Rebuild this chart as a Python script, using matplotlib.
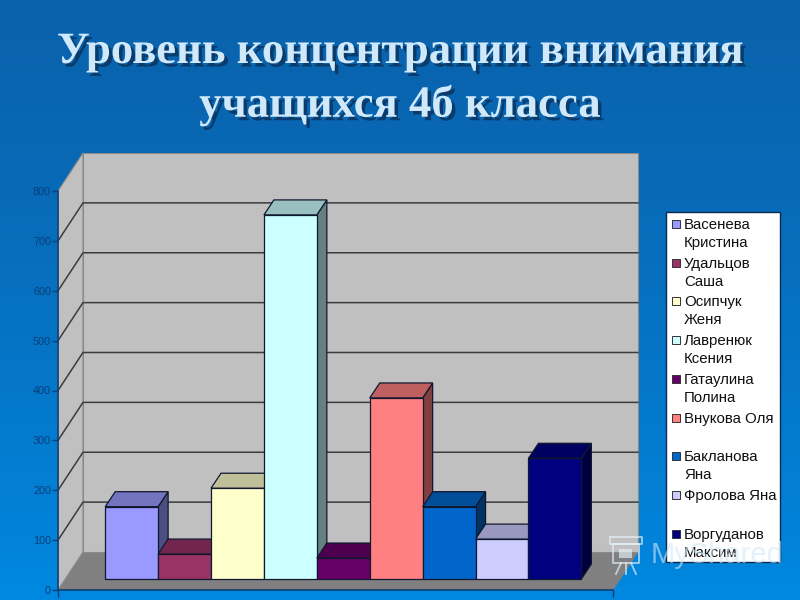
import numpy as np
import matplotlib
matplotlib.use('Agg')
import matplotlib.pyplot as plt
import matplotlib.patheffects as pe
from matplotlib.colors import to_rgb
from matplotlib.patches import Polygon, Rectangle

names = ['Васенева\nКристина', 'Удальцов\nСаша', 'Осипчук\nЖеня', 'Лавренюк\nКсения',
         'Гатаулина\nПолина', 'Внукова Оля', 'Бакланова\nЯна', 'Фролова Яна', 'Воргуданов\nМаксим']
values = [145, 50, 182, 730, 42, 363, 145, 80, 242]
colors = ['#9999FF', '#993366', '#FFFFCC', '#CCFFFF', '#660066', '#FF8080', '#0066CC', '#CCCCFF', '#000080']
yticks = [0, 100, 200, 300, 400, 500, 600, 700, 800]
legend_y = [224, 263, 301, 340, 379, 418, 456, 495, 534]

plt.rcParams['font.family'] = ['Liberation Sans', 'DejaVu Sans']
fig = plt.figure(figsize=(8, 6), dpi=100)

# background, title and legend live in a pixel sized overlay
bg = fig.add_axes([0, 0, 1, 1], zorder=0)
bg.axis('off')
top = np.array(to_rgb('#0A62AC'))
bottom = np.array(to_rgb('#0088E0'))
t = np.linspace(0, 1, 256)[:, None, None]
grad = top + (bottom - top) * t ** 1.3
bg.imshow(grad, extent=[0, 800, 600, 0], aspect='auto', zorder=0)
bg.set_xlim(0, 800)
bg.set_ylim(600, 0)

title_fx = [pe.withSimplePatchShadow(offset=(2.5, -2.5), shadow_rgbFace='#0A3560', alpha=0.85)]
for line, y in (('Уровень концентрации внимания', 52), ('учащихся 4б класса', 105)):
    bg.text(400, y, line, ha='center', va='center', family='Liberation Serif', fontweight='bold',
            fontsize=32.2, color='#CFE8FA', path_effects=title_fx)

# front plane of the chart: 58..613 px across, 0..800 is 590..191 px
ax = fig.add_axes([58 / 800, 10 / 600, 555 / 800, 399 / 600], zorder=1)
ax.patch.set_alpha(0)
xlim = (-1.26, 9.23)
ax.set_xlim(*xlim)
ax.set_ylim(0, 800)
ux = 555 / (xlim[1] - xlim[0])
uy = 399 / 800


def shift(x, y, dx, dy):
    return (x + dx / ux, y + dy / uy)


def poly(pts, **kw):
    ax.add_patch(Polygon(pts, closed=True, clip_on=False, **kw))


# walls and floor
x0, x1 = xlim
D = (25, 38)
poly([(x0, 0), shift(x0, 0, *D), shift(x1, 0, *D), (x1, 0)], fc='#808080', ec='#808080', lw=0.5, zorder=1)
poly([(x0, 0), shift(x0, 0, *D), shift(x0, 800, *D), (x0, 800)], fc='#C0C0C0', ec='#8a8a8a', lw=0.8, zorder=1)
poly([shift(x0, 0, *D), shift(x1, 0, *D), shift(x1, 800, *D), shift(x0, 800, *D)],
     fc='#C0C0C0', ec='#8a8a8a', lw=0.8, zorder=1)
for v in yticks[1:-1]:
    a, b, c = (x0, v), shift(x0, v, *D), shift(x1, v, *D)
    ax.plot([a[0], b[0], c[0]], [a[1], b[1], c[1]], color='#3c3c3c', lw=1.1, zorder=2, clip_on=False)

# bars, painted left to right
near = (7, 11)
bar_d = (10, 15)
for i, (v, c) in enumerate(zip(values, colors)):
    rgb = np.array(to_rgb(c))
    z = 3 + i
    l, r = i - 0.5, i + 0.5
    fl, fb = shift(l, 0, *near), shift(r, 0, *near)
    tl, tr = shift(l, v, *near), shift(r, v, *near)
    poly([fb, tr, shift(*tr, *bar_d), shift(*fb, *bar_d)], fc=rgb * 0.5, ec='#101830', lw=0.9, zorder=z)
    poly([tl, tr, shift(*tr, *bar_d), shift(*tl, *bar_d)], fc=rgb * 0.75, ec='#101830', lw=0.9, zorder=z)
    poly([fl, fb, tr, tl], fc=rgb, ec='#101830', lw=0.9, zorder=z)

ax.set_yticks(yticks)
ax.set_xticks(list(xlim))
ax.set_xticklabels([])
ax.tick_params(axis='y', colors='#0A3F78', labelsize=7.8, length=4, width=1, pad=1)
ax.tick_params(axis='x', color='#0A3F78', length=5, width=1)
for s in ('top', 'right'):
    ax.spines[s].set_visible(False)
for s in ('left', 'bottom'):
    ax.spines[s].set_color('#0A3F78')
    ax.spines[s].set_linewidth(1.2)

# legend box
fg = fig.add_axes([0, 0, 1, 1], zorder=2)
fg.set_xlim(0, 800)
fg.set_ylim(600, 0)
fg.axis('off')
fg.add_patch(Rectangle((666, 212), 114, 350, fc='white', ec='#0A2A50', lw=1))
for name, c, y in zip(names, colors, legend_y):
    fg.add_patch(Rectangle((672, y - 4.5), 8, 8, fc=c, ec='#333333', lw=0.7))
    fg.text(684, y - 6, name, ha='left', va='top', fontsize=10.8, color='#111111', linespacing=1.38)

# watermark
fg.text(651, 555, 'MyShared', ha='left', va='center', fontsize=21, color='#CFE9F8', alpha=0.6)
wm = dict(color='#E4F2FA', alpha=0.65, lw=1.4)
fg.plot([610, 642, 642, 610, 610], [537, 537, 544, 544, 537], **wm)
fg.plot([613, 639, 639, 613, 613], [544, 544, 563, 563, 544], **wm)
fg.add_patch(Rectangle((619, 549), 13, 9, fc='#E4F2FA', ec='none', alpha=0.65))
fg.plot([621, 616], [563, 574], **wm)
fg.plot([626, 626], [563, 574], **wm)
fg.plot([631, 636], [563, 574], **wm)

fig.savefig('out.png', dpi=100)
